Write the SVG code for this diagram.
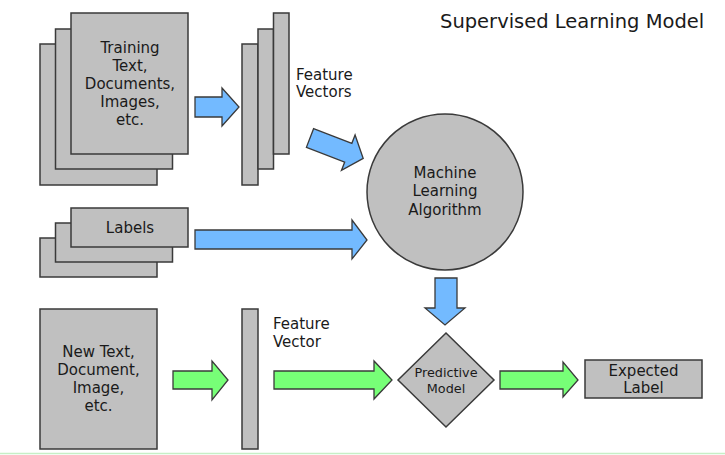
<svg xmlns="http://www.w3.org/2000/svg" width="725" height="455" viewBox="0 0 725 455">
<style>
.box{fill:#c0c0c0;stroke:#3a3a3a;stroke-width:1.5}
.blue{fill:#73baff;stroke:#3a3a3a;stroke-width:1.3;stroke-linejoin:miter}
.green{fill:#77ff77;stroke:#3a3a3a;stroke-width:1.3;stroke-linejoin:miter}
text{font-family:"DejaVu Sans","Liberation Sans",sans-serif;fill:#1a1a1a;font-size:15px}
.c{text-anchor:middle}
</style>
<rect width="725" height="455" fill="#ffffff"/>
<text x="440" y="28" style="font-size:19.5px">Supervised Learning Model</text>

<g id="training-docs">
<rect class="box" x="40" y="44" width="117" height="141"/>
<rect class="box" x="55.5" y="29" width="117" height="140"/>
<rect class="box" x="71" y="13" width="117" height="141"/>
<text class="c" x="130" y="53">Training</text>
<text class="c" x="130" y="71">Text,</text>
<text class="c" x="130" y="89">Documents,</text>
<text class="c" x="130" y="107">Images,</text>
<text class="c" x="130" y="125">etc.</text>
</g>

<g id="feature-vectors">
<rect class="box" x="242" y="44" width="16" height="141"/>
<rect class="box" x="258" y="29" width="15.5" height="140"/>
<rect class="box" x="273.5" y="13" width="15.5" height="141"/>
<text x="296" y="80">Feature</text>
<text x="296" y="97">Vectors</text>
</g>

<g id="labels">
<rect class="box" x="40" y="238" width="117" height="39"/>
<rect class="box" x="55.5" y="223" width="117" height="39"/>
<rect class="box" x="71" y="208" width="117" height="39"/>
<text class="c" x="130" y="233">Labels</text>
</g>

<g id="ml-algorithm">
<circle class="box" cx="445" cy="192" r="78"/>
<text class="c" x="445" y="178">Machine</text>
<text class="c" x="445" y="196">Learning</text>
<text class="c" x="445" y="215">Algorithm</text>
</g>

<g id="new-doc">
<rect class="box" x="40" y="309" width="117" height="140"/>
<text class="c" x="98.5" y="357">New Text,</text>
<text class="c" x="98.5" y="375">Document,</text>
<text class="c" x="98.5" y="393">Image,</text>
<text class="c" x="98.5" y="411">etc.</text>
</g>

<g id="feature-vector">
<rect class="box" x="242" y="309" width="16" height="140"/>
<text x="273" y="329">Feature</text>
<text x="273" y="347">Vector</text>
</g>

<g id="predictive-model">
<polygon class="box" points="446,333 494,380 446,427 398,380"/>
<text class="c" x="446" y="377" style="font-size:12.8px">Predictive</text>
<text class="c" x="446" y="393" style="font-size:12.8px">Model</text>
</g>

<g id="expected-label">
<rect class="box" x="585" y="360" width="117" height="38"/>
<text class="c" x="643.5" y="376">Expected</text>
<text class="c" x="643.5" y="393">Label</text>
</g>

<g id="connectors">
<polygon class="blue" points="195,97 222,97 222,88 239,107 222,126 222,117 195,117"/>
<polygon class="blue" transform="translate(310,138) rotate(21)" points="0,-10 41,-10 41,-19 57,0 41,19 41,10 0,10"/>
<polygon class="blue" points="195,230 352,230 352,220 367,240 352,259 352,249 195,249"/>
<polygon class="blue" points="435,278 457,278 457,308 465,308 445,325 425,308 435,308"/>
<polygon class="green" points="173,371 212,371 212,361 228,380 212,400 212,389 173,389"/>
<polygon class="green" points="274,371 374,371 374,361 392,380 374,399 374,389 274,389"/>
<polygon class="green" points="500,371 563,371 563,362 578,380 563,397 563,389 500,389"/>
</g>

<line x1="0" y1="453.5" x2="725" y2="453.5" stroke="#c6efc6" stroke-width="1.5"/>
</svg>
